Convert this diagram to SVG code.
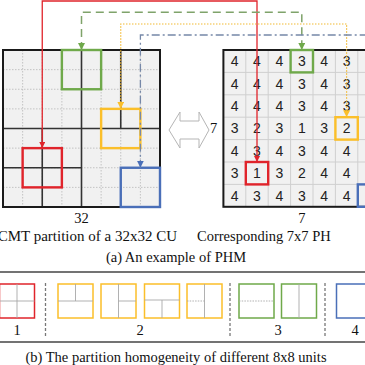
<svg xmlns="http://www.w3.org/2000/svg" width="365" height="365" viewBox="0 0 365 365">
<defs>
<style>
.bg{fill:#ffffff}
.cellfill{fill:#f1f1f1}
.dot{stroke:#b8b8b8;stroke-width:0.8;stroke-dasharray:1.5,1.5;fill:none}
.thin{stroke:#cfcfcf;stroke-width:1;fill:none}
.part{stroke:#333333;stroke-width:1.6;fill:none}
.border{stroke:#1a1a1a;stroke-width:2;fill:none}
.num{font-family:"Liberation Sans","Open Sans",sans-serif;font-size:14px;fill:#222;text-anchor:middle}
.serif{font-family:"Liberation Serif","Times New Roman",serif;font-size:14.5px;fill:#111}
.mid{text-anchor:middle}
.red{stroke:#e0242b;fill:none}
.yel{stroke:#fbbf2a;fill:none}
.grn{stroke:#6fa94a;fill:none}
.blu{stroke:#4a6fb8;fill:none}
.bx{stroke-width:2.4}
.sbx{stroke-width:1.5}
.inner{stroke:#a8a8a8;stroke-width:0.9;fill:none}
.innerd{stroke:#a8a8a8;stroke-width:0.9;stroke-dasharray:1.5,1.2;fill:none}
.sep{stroke:#777;stroke-width:1.3;stroke-dasharray:3,2;fill:none}
.rule{stroke:#444;stroke-width:1.5;fill:none}
</style>
<marker id="ar" viewBox="0 0 10 10" refX="10" refY="5" markerWidth="6" markerHeight="6" markerUnits="userSpaceOnUse" orient="auto-start-reverse"><path d="M0,0 L10,5 L0,10 Z" fill="#e0242b"/></marker>
<marker id="ag" viewBox="0 0 10 10" refX="10" refY="5" markerWidth="7" markerHeight="7" markerUnits="userSpaceOnUse" orient="auto-start-reverse"><path d="M0,0 L10,5 L0,10 Z" fill="#6fa94a"/></marker>
<marker id="ay" viewBox="0 0 10 10" refX="10" refY="5" markerWidth="7" markerHeight="7" markerUnits="userSpaceOnUse" orient="auto-start-reverse"><path d="M0,0 L10,5 L0,10 Z" fill="#fbbf2a"/></marker>
<marker id="ab" viewBox="0 0 10 10" refX="10" refY="5" markerWidth="7" markerHeight="7" markerUnits="userSpaceOnUse" orient="auto-start-reverse"><path d="M0,0 L10,5 L0,10 Z" fill="#4a6fb8"/></marker>
</defs>
<rect class="bg" x="0" y="0" width="365" height="365"/>

<g id="cu-grid">
<rect class="cellfill" x="3" y="50" width="157" height="157"/>
<path class="dot" d="M22.625,50V207M42.25,50V207M61.875,50V207M81.5,50V207M101.125,50V207M120.75,50V207M140.375,50V207M3,69.625H160M3,89.25H160M3,108.875H160M3,128.5H160M3,148.125H160M3,167.75H160M3,187.375H160"/>
<path class="part" d="M81.5,50V207M3,128.5H160M120.75,50V128.5M42.25,128.5V207M3,167.75H81.5"/>
<rect class="border" x="3" y="50" width="157" height="157"/>
<rect class="grn bx" x="61.875" y="50" width="39.25" height="39.25"/>
<rect class="yel bx" x="101.125" y="108.875" width="39.25" height="39.25"/>
<rect class="red bx" x="22.625" y="148.125" width="39.25" height="39.25"/>
<rect class="blu bx" x="120.75" y="167.75" width="39.25" height="39.25"/>
<text class="serif mid" x="81.5" y="223">32</text>
<text class="serif" x="177" y="241" text-anchor="end" style="font-size:15px">CMT partition of a 32x32 CU</text>
</g>

<g id="double-arrow">
<polygon points="169,130 180,112 180,121 199,121 199,112 209,130 199,148 199,139 180,139 180,148" fill="#ffffff" stroke="#b5b5b5" stroke-width="1"/>
</g>

<g id="phm-grid">
<rect class="cellfill" x="223.4" y="50" width="156.8" height="156.8"/>
<path class="thin" d="M245.8,50V206.8M268.2,50V206.8M290.6,50V206.8M313,50V206.8M335.4,50V206.8M357.8,50V206.8M223.4,72.4H380M223.4,94.8H380M223.4,117.2H380M223.4,139.6H380M223.4,162H380M223.4,184.4H380"/>
<rect class="border" x="223.4" y="50" width="156.8" height="156.8"/>
<g class="num">
<text x="234.6" y="66.2">4</text><text x="257" y="66.2">4</text><text x="279.4" y="66.2">4</text><text x="301.8" y="66.2">3</text><text x="324.2" y="66.2">4</text><text x="346.6" y="66.2">3</text>
</g>
<g class="num" transform="translate(0,22.4)">
<text x="234.6" y="66.2">4</text><text x="257" y="66.2">4</text><text x="279.4" y="66.2">4</text><text x="301.8" y="66.2">3</text><text x="324.2" y="66.2">4</text><text x="346.6" y="66.2">3</text>
</g>
<g class="num" transform="translate(0,44.8)">
<text x="234.6" y="66.2">4</text><text x="257" y="66.2">4</text><text x="279.4" y="66.2">4</text><text x="301.8" y="66.2">3</text><text x="324.2" y="66.2">4</text><text x="346.6" y="66.2">3</text>
</g>
<g class="num" transform="translate(0,67.2)">
<text x="234.6" y="66.2">3</text><text x="257" y="66.2">2</text><text x="279.4" y="66.2">3</text><text x="301.8" y="66.2">1</text><text x="324.2" y="66.2">3</text><text x="346.6" y="66.2">2</text>
</g>
<g class="num" transform="translate(0,89.6)">
<text x="234.6" y="66.2">4</text><text x="257" y="66.2">3</text><text x="279.4" y="66.2">4</text><text x="301.8" y="66.2">3</text><text x="324.2" y="66.2">4</text><text x="346.6" y="66.2">4</text>
</g>
<g class="num" transform="translate(0,112)">
<text x="234.6" y="66.2">3</text><text x="257" y="66.2">1</text><text x="279.4" y="66.2">3</text><text x="301.8" y="66.2">2</text><text x="324.2" y="66.2">4</text><text x="346.6" y="66.2">4</text>
</g>
<g class="num" transform="translate(0,134.4)">
<text x="234.6" y="66.2">4</text><text x="257" y="66.2">3</text><text x="279.4" y="66.2">4</text><text x="301.8" y="66.2">3</text><text x="324.2" y="66.2">4</text><text x="346.6" y="66.2">4</text>
</g>
<rect class="grn bx" x="290.6" y="50" width="22.4" height="22.4"/>
<rect class="yel bx" x="335.4" y="117.2" width="22.4" height="22.4"/>
<rect class="red bx" x="245.8" y="162" width="22.4" height="22.4"/>
<rect class="blu bx" x="357.8" y="184.4" width="22.4" height="22.4"/>
<text class="serif" x="213.5" y="133" text-anchor="middle">7</text>
<text class="serif mid" x="301.8" y="223">7</text>
<text class="serif" x="197" y="241">Corresponding 7x7 PH</text>
</g>

<g id="connectors">
<path d="M42.25,148 V1 H257 V162" stroke="#e0242b" stroke-width="1.3" fill="none" marker-start="url(#ar)" marker-end="url(#ar)"/>
<path d="M81.5,50 V12.3 H301.8 V50" stroke="#7fa36a" stroke-width="1.5" stroke-dasharray="8,5" fill="none" marker-start="url(#ag)" marker-end="url(#ag)"/>
<path d="M120.75,108.8 V24 H346.6 V117.2" stroke="#f2b930" stroke-width="1.2" stroke-dasharray="1.5,1.5" fill="none" marker-start="url(#ay)" marker-end="url(#ay)"/>
<path d="M140.4,167.7 V35 H366" stroke="#7688a8" stroke-width="1.3" stroke-dasharray="8,3,2,3" fill="none" marker-start="url(#ab)"/>
</g>

<text class="serif mid" x="176" y="262">(a) An example of PHM</text>
<line class="rule" x1="0" y1="272" x2="365" y2="272"/>

<g id="unit-1">
<rect class="red sbx" x="-0.5" y="284" width="35" height="34"/>
<path class="inner" d="M17,284V318M-0.5,301H34.5"/>
</g>
<g id="unit-2a">
<rect class="yel sbx" x="58" y="284" width="35" height="34"/>
<path class="inner" d="M75.5,284V301M58,301H93"/>
</g>
<g id="unit-2b">
<rect class="yel sbx" x="101" y="284" width="35" height="34"/>
<path class="inner" d="M118.5,284V318M118.5,301H136"/>
</g>
<g id="unit-2c">
<rect class="yel sbx" x="144.5" y="284" width="35" height="34"/>
<path class="inner" d="M144.5,300H179.5M162,300V318"/>
</g>
<g id="unit-2d">
<rect class="yel sbx" x="187" y="284" width="35" height="34"/>
<path class="inner" d="M204.5,284V318"/>
<path class="innerd" d="M187,301H204.5"/>
</g>
<g id="unit-3a">
<rect class="grn sbx" x="239" y="284" width="35" height="34"/>
<path class="innerd" d="M239,301H274"/>
</g>
<g id="unit-3b">
<rect class="grn sbx" x="281.5" y="284" width="35" height="34"/>
<path class="inner" d="M299,284V318"/>
</g>
<g id="unit-4">
<rect class="blu sbx" x="336.5" y="284" width="35" height="34"/>
</g>
<g id="separators">
<path class="sep" d="M45.5,283V336M230,283V336M325,283V336"/>
</g>
<g class="serif mid">
<text x="17" y="335" text-anchor="middle">1</text>
<text x="140" y="335" text-anchor="middle">2</text>
<text x="278" y="335" text-anchor="middle">3</text>
<text x="355" y="335" text-anchor="middle">4</text>
</g>
<line class="rule" x1="0" y1="342" x2="365" y2="342"/>
<text class="serif mid" x="176" y="362">(b) The partition homogeneity of different 8x8 units</text>
</svg>
